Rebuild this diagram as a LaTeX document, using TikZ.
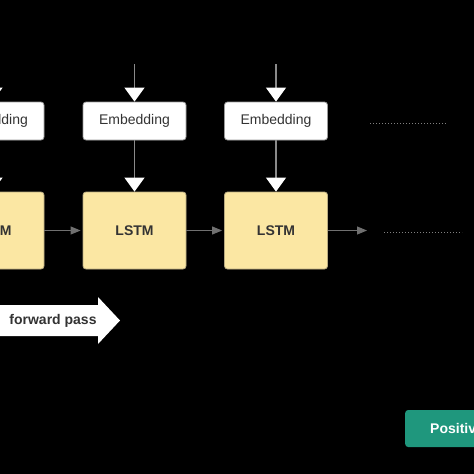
\documentclass[tikz,border=0pt]{standalone}
\usepackage{fontspec}
\setmainfont{Liberation Sans}
\usetikzlibrary{arrows.meta}
\definecolor{lstmfill}{HTML}{FBE7A3}
\definecolor{lstmdraw}{HTML}{B8AA80}
\definecolor{embdraw}{HTML}{9A9A9A}
\definecolor{arrgray}{HTML}{8A8A8A}
\definecolor{hgray}{HTML}{707070}
\definecolor{teal}{HTML}{1F977D}
\definecolor{txt}{HTML}{333333}
\tikzset{
  embbox/.style={draw=embdraw, fill=white, rounded corners=3pt, line width=0.8pt,
    minimum width=103pt, minimum height=38pt, inner sep=0pt,
    font=\fontsize{14}{16}\selectfont, text=txt},
  lstmbox/.style={draw=lstmdraw, fill=lstmfill, rounded corners=3pt, line width=0.8pt,
    minimum width=103pt, minimum height=77pt, inner sep=0pt,
    font=\fontsize{14}{16}\selectfont\bfseries, text=txt},
  varrow/.style={draw=arrgray, line width=1.2pt, -{Triangle[width=20pt,length=14pt,color=white]}},
  harrow/.style={draw=hgray, line width=1pt, -{Triangle[width=8pt,length=10pt]}},
  dots/.style={draw=gray, line width=1pt, dash pattern=on 1pt off 2pt},
}
\begin{document}
\begin{tikzpicture}[x=1pt,y=-1pt]
\useasboundingbox (0,0) rectangle (474,474);
\fill[black] (0,0) rectangle (474,474);
\clip (0,0) rectangle (474,474);
% embedding boxes
\node[embbox] (e1) at (-7.5,121) {Embedding};
\node[embbox] (e2) at (134.5,121) {Embedding};
\node[embbox] (e3) at (276,121) {Embedding};
% LSTM boxes
\node[lstmbox] (l1) at (-7.5,230.5) {LSTM};
\node[lstmbox] (l2) at (134.5,230.5) {LSTM};
\node[lstmbox] (l3) at (276,230.5) {LSTM};
% inputs
\coordinate (i1) at (-7.5,64);
\coordinate (i2) at (134.5,64);
\coordinate (i3) at (276,64);
\draw[varrow] (i1) -- (e1.north);
\draw[varrow] (i2) -- (e2.north);
\draw[varrow] (i3) -- (e3.north);
\draw[varrow] (e1.south) -- (l1.north);
\draw[varrow] (e2.south) -- (l2.north);
\draw[varrow] (e3.south) -- (l3.north);
% horizontal
\coordinate (hout) at (367,230.5);
\draw[harrow] (l1.east) -- ([xshift=-2pt]l2.west);
\draw[harrow] (l2.east) -- ([xshift=-2pt]l3.west);
\draw[harrow] (l3.east) -- (hout);
% dotted continuations
\coordinate (d1a) at (370,123.5);
\coordinate (d1b) at (446,123.5);
\coordinate (d2a) at (384,232.5);
\coordinate (d2b) at (462,232.5);
\draw[dots] (d1a) -- (d1b);
\draw[dots] (d2a) -- (d2b);
% forward pass arrow
\fill[white] (-5,305) -- (98,305) -- (98,297) -- (120,320.5) -- (98,344) -- (98,336) -- (-5,336) -- cycle;
\node[font=\fontsize{14}{16}\selectfont\bfseries, text=txt] (fwd) at (53,320.5) {forward pass};
% positive box
\node[anchor=west, fill=teal, rounded corners=3pt, minimum height=37pt, inner xsep=25pt,
  text=white, font=\fontsize{14}{16}\selectfont\bfseries] (pos) at (405,428.5) {Positive\hspace{30pt}};
\end{tikzpicture}
\end{document}
